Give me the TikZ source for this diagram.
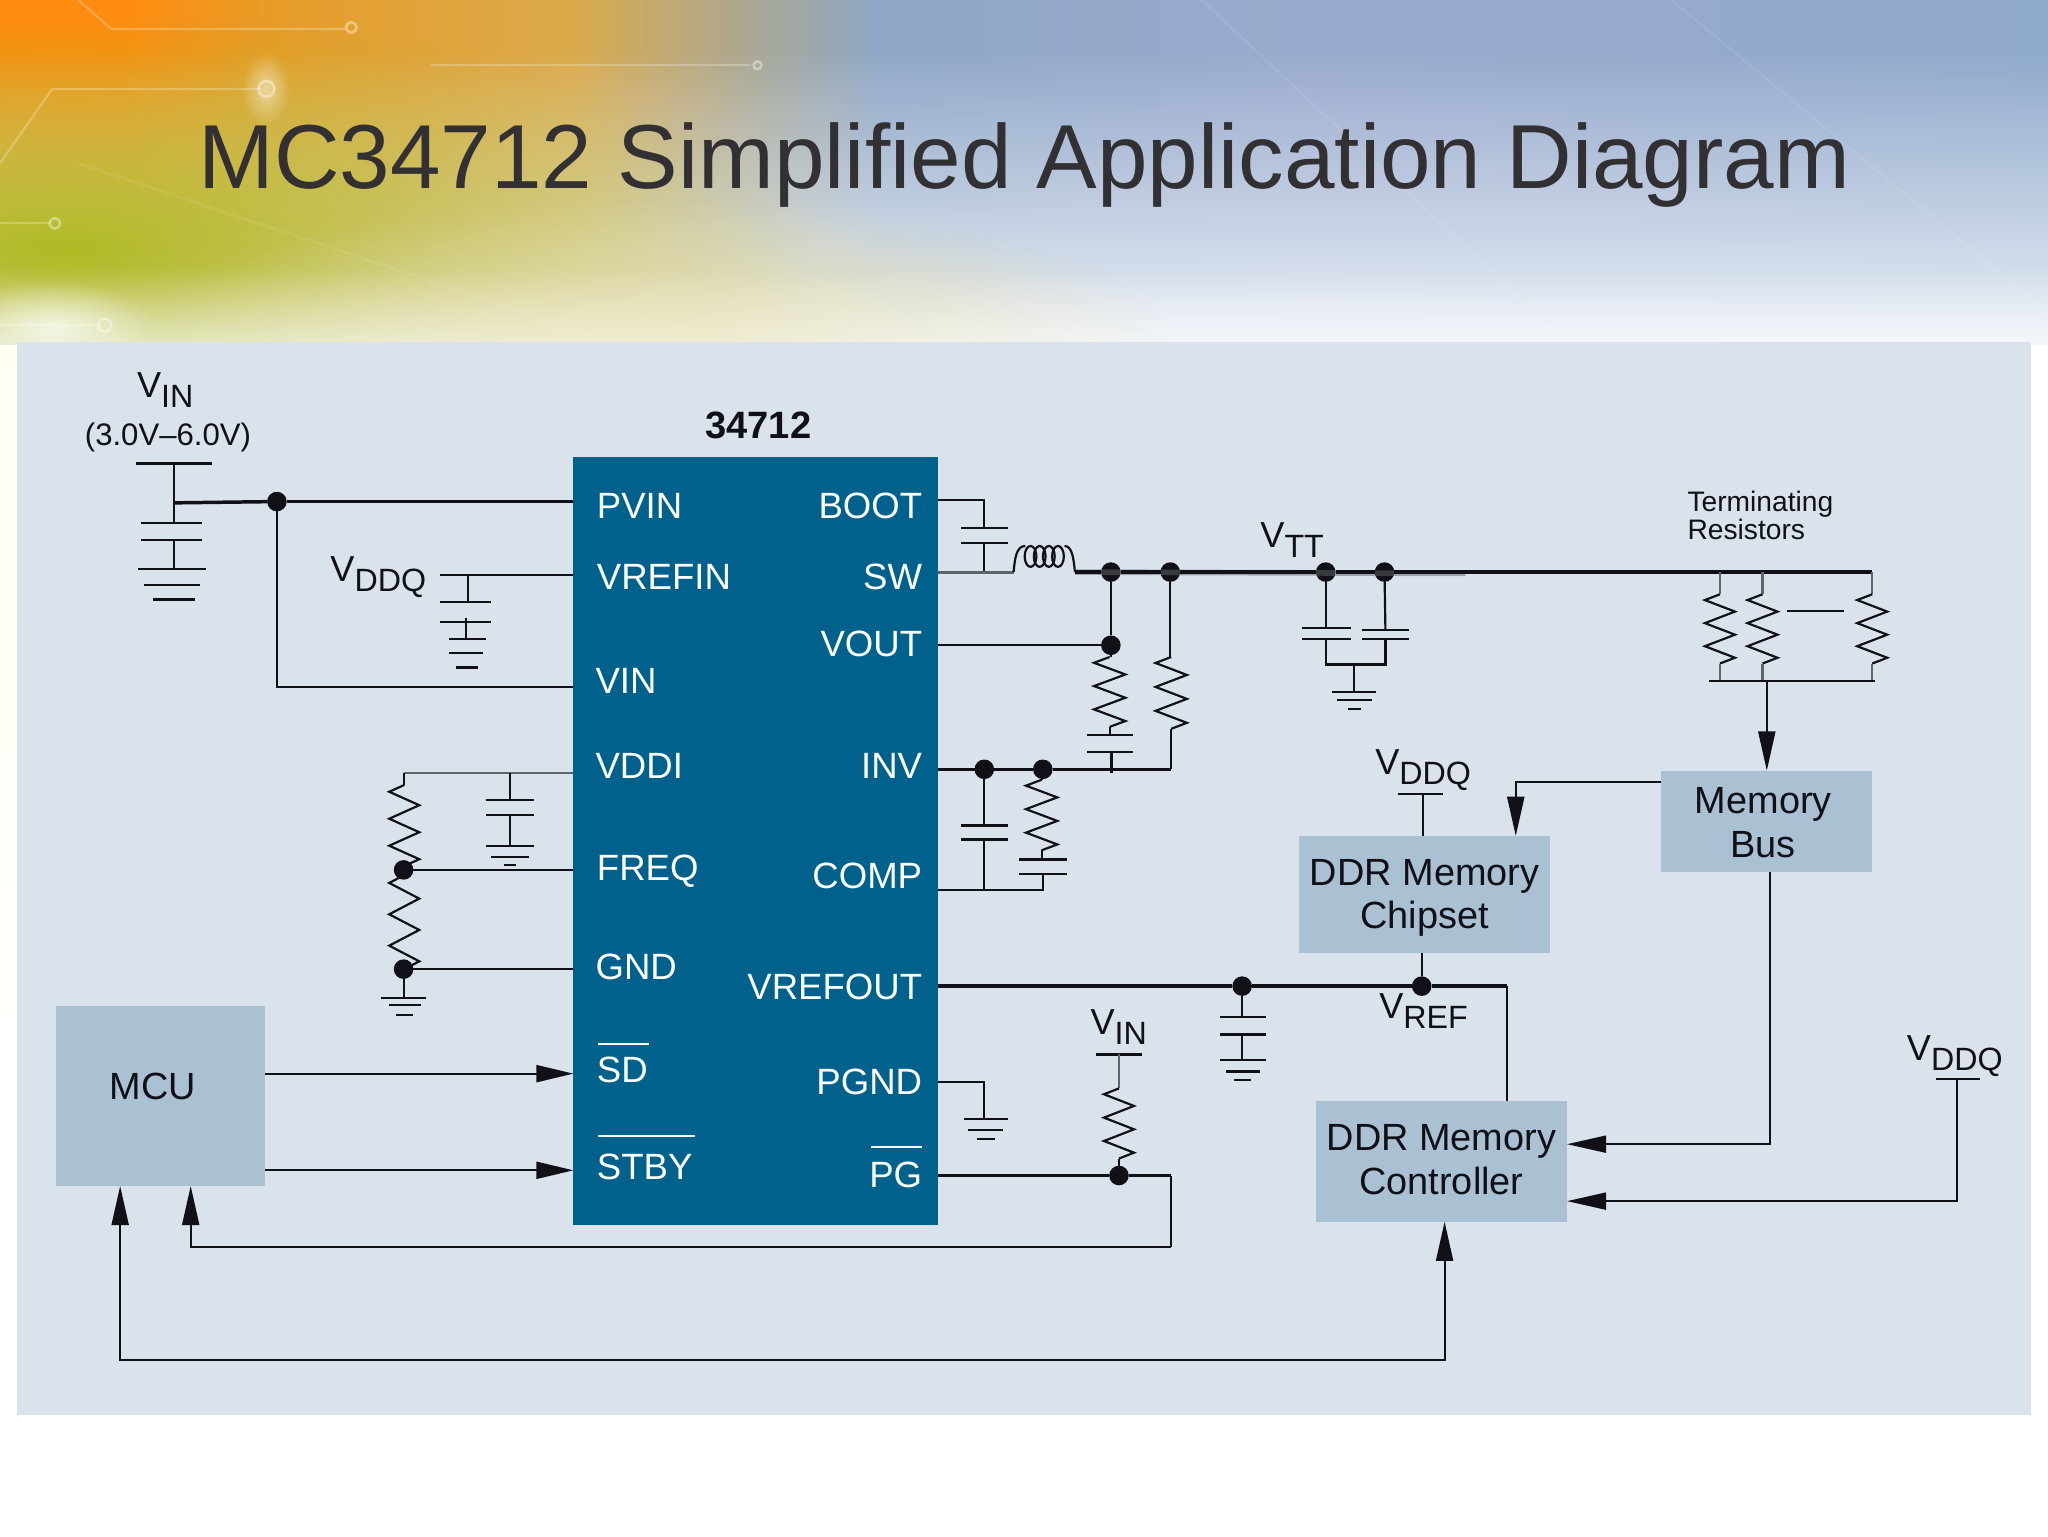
\documentclass[tikz,border=0pt]{standalone}
\usepackage{fontspec}
\setmainfont{Liberation Sans}
\usetikzlibrary{arrows.meta,fadings,calc}
\definecolor{panelc}{RGB}{218,226,236}
\definecolor{boxc}{RGB}{170,193,212}
\definecolor{chipc}{RGB}{0,97,140}
\definecolor{inkc}{RGB}{16,16,22}
\definecolor{titlec}{RGB}{50,48,50}
\definecolor{grayw}{RGB}{95,100,105}
\definecolor{bgA}{RGB}{255,140,16}
\definecolor{bgB}{RGB}{232,156,40}
\definecolor{bgC}{RGB}{218,170,76}
\definecolor{bgD}{RGB}{168,168,152}
\definecolor{bgE}{RGB}{144,168,200}
\definecolor{bgF}{RGB}{154,170,206}
\definecolor{bgG}{RGB}{144,170,204}
\definecolor{paleb}{RGB}{234,239,246}
\definecolor{greenb}{RGB}{176,186,36}
\definecolor{yellowb}{RGB}{226,218,160}
\pgfdeclarehorizontalshading{topbg}{100bp}{
 color(0bp)=(bgA); color(25bp)=(bgA); color(28bp)=(bgA); color(31.5bp)=(bgB); color(39bp)=(bgC);
 color(43.5bp)=(bgD); color(46.5bp)=(bgE); color(57bp)=(bgF); color(75bp)=(bgG); color(100bp)=(bgG)}
\tikzfading[name=vfade, top color=transparent!100, bottom color=transparent!0]
\tikzfading[name=blob, inner color=transparent!0, outer color=transparent!100]
\tikzset{
 wire/.style={draw=inkc,line width=1pt},
 thickw/.style={draw=inkc,line width=1.6pt},
 grayline/.style={draw=grayw,line width=1.1pt},
 junc/.style={circle,fill=inkc,inner sep=0pt,minimum size=9pt,outer sep=0pt},
 lab/.style={inner sep=0pt,outer sep=0pt,anchor=base west,text=inkc},
 pinl/.style={inner sep=0pt,outer sep=0pt,anchor=base west,text=white,font=\fontsize{16.8pt}{18pt}\selectfont},
 pinr/.style={inner sep=0pt,outer sep=0pt,anchor=base east,text=white,font=\fontsize{16.8pt}{18pt}\selectfont},
 blockn/.style={fill=boxc,inner sep=0pt,outer sep=0pt},
 blockt/.style={inner sep=0pt,outer sep=0pt,align=center,text=inkc,font=\fontsize{17.4pt}{20pt}\selectfont},
 arr/.style={-{Triangle[length=18pt,width=7.8pt]}},
 arrb/.style={{Triangle[length=18pt,width=7.8pt]}-{Triangle[length=18pt,width=7.8pt]}},
}
\newcommand\plates[3]{\foreach \yy in {#3}{\draw[wire] (#1,\yy) -- (#2,\yy);}}
\newcommand\vres[5][wire]{\draw[#1,line join=miter]
 (#2,#3) -- ({#2-#5},{#3+(#4-#3)/12}) -- ({#2+#5},{#3+3*(#4-#3)/12}) -- ({#2-#5},{#3+5*(#4-#3)/12})
 -- ({#2+#5},{#3+7*(#4-#3)/12}) -- ({#2-#5},{#3+9*(#4-#3)/12}) -- ({#2+#5},{#3+11*(#4-#3)/12}) -- (#2,#4);}
\newcommand\vsub[2]{\fontsize{16.6pt}{18pt}\selectfont #1\raisebox{-4.6pt}{\fontsize{14.8pt}{16pt}\selectfont #2}}
\begin{document}
\begin{tikzpicture}[x=0.6pt,y=-0.6pt]
\useasboundingbox (0,0) rectangle (1568,1176);
% background
\fill[white] (0,0) rectangle (1568,1176);
\shade[top color=white!95!yellow,bottom color=white] (0,264) rectangle (13,900);
\begin{scope}
\clip (0,0) rectangle (1568,264);
\shade[shading=topbg] (0,0) rectangle (1568,264);
\fill[paleb,path fading=vfade] (-30,40) rectangle (1600,264);
\fill[greenb,path fading=blob] (-520,10) rectangle (620,370);
\fill[yellowb,path fading=blob] (100,150) rectangle (900,380);
\fill[white,opacity=.5,path fading=vfade] (-30,205) rectangle (1600,264);
\fill[white,opacity=.7,path fading=blob] (-40,215) rectangle (120,285);
\fill[white,opacity=.5,path fading=blob] (185,40) rectangle (222,96);
\foreach \a/\b/\c/\d in {60/0/85/22,85/22/265/22,330/50/575/50,0/125/40/68,40/68/200/68,0/171/38/171,0/249/78/249}
 \draw[white,opacity=.25,line width=1pt] (\a,\b) -- (\c,\d);
\foreach \a/\b/\c/\d in {60/125/470/262,920/0/1200/262,1280/0/1568/240}
 \draw[white,opacity=.08,line width=1pt] (\a,\b) -- (\c,\d);
\foreach \a/\b/\r in {269/21/4,580/50/3,204/68/6,42/171/4,80/249/5}
 \draw[white,opacity=.4,line width=1.2pt] (\a,\b) circle (\r);
\end{scope}
\fill[panelc] (13,262) rectangle (1555,1083);
% title
\node[lab,text=titlec,font=\fontsize{41.75pt}{44pt}\selectfont] (title) at (152,144) {MC34712 Simplified Application Diagram};
% blocks
\node[fill=chipc,minimum width=167.4pt,minimum height=352.8pt,inner sep=0pt,outer sep=0pt] (chip) at (578.5,644) {};
\node[blockn,minimum width=96pt,minimum height=82.8pt] (mcu) at (123,839) {};
\node[blockn,minimum width=96.84pt,minimum height=46.44pt] (membus) at (1352.7,628.7) {};
\node[blockn,minimum width=115.32pt,minimum height=54pt] (chipset) at (1090.7,685) {};
\node[blockn,minimum width=115.32pt,minimum height=55.44pt] (ctrl) at (1103.6,889.2) {};
\node[blockt] (tmcu) at (117,832) {MCU};
\node[blockt] (tmembus) at (1350,630) {Memory\\Bus};
\node[blockt] (tchipset) at (1090.7,687.5) {DDR Memory\\Chipset};
\node[blockt] (tctrl) at (1103.6,888) {DDR Memory\\Controller};
% chip labels
\node[lab,font=\bfseries\fontsize{17.5pt}{18pt}\selectfont] (partno) at (540,336) {34712};
\node[pinl] (tpvin) at (457,397) {PVIN};
\node[pinl] (tvrefin) at (457,451) {VREFIN};
\node[pinl] (tvin) at (456,531) {VIN};
\node[pinl] (tvddi) at (456,596) {VDDI};
\node[pinl] (tfreq) at (457,674) {FREQ};
\node[pinl] (tgnd) at (456,750) {GND};
\node[pinl] (tsd) at (457,829) {SD};
\node[pinl] (tstby) at (457,903) {STBY};
\node[pinr] (tboot) at (706,397) {BOOT};
\node[pinr] (tsw) at (706,451) {SW};
\node[pinr] (tvout) at (706,503) {VOUT};
\node[pinr] (tinv) at (706,596) {INV};
\node[pinr] (tcomp) at (706,680) {COMP};
\node[pinr] (tvrefout) at (706,765) {VREFOUT};
\node[pinr] (tpgnd) at (706,838) {PGND};
\node[pinr] (tpg) at (706,909) {PG};
\draw[white,line width=.9pt] (458,799) -- (497,799) (458,870) -- (532,870) (667,878) -- (706,878);
% voltage labels
\node[lab] (lvin) at (105,304) {\vsub{V}{IN}};
\node[lab,font=\fontsize{14.3pt}{16pt}\selectfont] (lrange) at (65,341) {(3.0V–6.0V)};
\node[lab] (lvddqa) at (253,445) {\vsub{V}{DDQ}};
\node[lab] (lvtt) at (965,419) {\vsub{V}{TT}};
\node[lab] (lvddqb) at (1053,593) {\vsub{V}{DDQ}};
\node[lab] (lvref) at (1056,780) {\vsub{V}{REF}};
\node[lab] (lvinb) at (835,792) {\vsub{V}{IN}};
\node[lab] (lvddqc) at (1460,812) {\vsub{V}{DDQ}};
\node[lab,font=\fontsize{12.95pt}{12.8pt}\selectfont,align=left,anchor=north west] (lterm) at (1292,376) {Terminating\\Resistors};
% junctions
\node[junc] (jpv) at (212,384) {};
\node[junc] (jfr) at (309,666) {};
\node[junc] (jgn) at (309,742) {};
\node[junc] (jsa) at (850.5,438) {};
\node[junc] (jsb) at (896,438) {};
\node[junc] (jvo) at (850.5,494) {};
\node[junc] (jta) at (1015,438) {};
\node[junc] (jtb) at (1060,438) {};
\node[junc] (jia) at (753.6,589) {};
\node[junc] (jib) at (798.4,589) {};
\node[junc] (jra) at (951,755) {};
\node[junc] (jrb) at (1088.5,755) {};
\node[junc] (jpg) at (856.7,900) {};
% coordinates
\coordinate (batt) at (133,385);
\coordinate (vdq) at (358,440);
\coordinate (vdi) at (309,592);
\coordinate (vdc) at (390.6,592);
\coordinate (swa) at (776,438);
\coordinate (swb) at (823,438);
\coordinate (trm) at (1433.5,438);
\coordinate (bot) at (753.6,383);
\coordinate (bus) at (1352.7,521.5);
\coordinate (gnc) at (753.6,681.5);
\coordinate (gnd) at (798.4,681.5);
\coordinate (pgn) at (753.6,828.7);
\coordinate (pgr) at (896.5,900);
\coordinate (pgb) at (896.5,954.5);
\coordinate (pgl) at (146,954.5);
\coordinate (lpl) at (92,1041);
\coordinate (lpr) at (1106,1041);
\coordinate (mbc) at (1355,876);
\coordinate (mbt) at (1160.5,599);
\coordinate (vdr) at (1498,919.6);
\coordinate (vrr) at (1153.7,755);
\coordinate (vdb) at (1089.3,608.2);
\coordinate (sdy) at (300,822);
\coordinate (sby) at (300,896);
\coordinate (vny) at (300,526);
% left wiring
\draw[thickw] (batt) -- (jpv);
\draw[wire] (jpv) -- (chip.west |- jpv);
\draw[wire] (jpv) |- (chip.west |- vny);
\draw[wire] (133,354.8) -- (133,400.6) (133,413.4) -- (133,435.4);
\plates{104}{162}{354.8}
\plates{108}{155}{400.6,413.4}
\plates{106}{158}{435.4}
\plates{110}{153}{447.8}
\plates{117}{149}{459}
\draw[wire] (337,440) -- (chip.west |- vdq);
\draw[wire] (vdq) -- (358,461) (357,473) -- (357,489);
\plates{337}{376}{461,476.4}
\plates{344}{372}{489}
\plates{344}{370}{500}
\plates{349}{366}{511}
\draw[grayline] (vdi) -- (chip.west |- vdi);
\draw[wire] (vdi) -- (309,601);
\vres{309.5}{601}{663}{11.5}
\vres{309.5}{670}{742}{11.5}
\draw[wire] (vdc) -- (390.6,612.7) (390.6,623.7) -- (390.6,647.5);
\plates{372}{409}{612.7,623.7,647.5}
\plates{376}{405}{656}
\plates{386}{395}{662.5}
\draw[wire] (jfr) -- (chip.west |- jfr);
\draw[wire] (jgn) -- (chip.west |- jgn);
\draw[wire] (jgn) -- (309,764);
\plates{291.5}{326}{764}
\plates{298}{322}{769.5}
\plates{303}{316}{777}
% right wiring: boot, sw, inductor
\draw[wire] (chip.east |- bot) -- (bot) -- (753.6,404.5);
\draw[wire] (753.6,416) -- (753.6,438);
\plates{736}{772}{404.5,416}
\draw[grayline,line width=1.4pt] (chip.east |- swa) -- (swa);
\draw[wire] (swa) .. controls (777,428) and (778,418) .. (785,418);
\foreach \cx in {789,796,803,810} \draw[wire] (\cx,426) ellipse (4.5 and 8);
\draw[wire] (815,418) .. controls (821,418) and (822,428) .. (swb);
\draw[grayline,line width=2.6pt,opacity=.5] (swb) -- (1122,439);
\draw[thickw] (swb) -- (jsa) -- (jsb) -- (jta) -- (jtb) -- (trm);
% vout, feedback
\draw[wire] (chip.east |- jvo) -- (jvo);
\draw[wire] (jsa) -- (jvo) -- (850.5,503);
\vres{849.6}{503}{556.5}{12}
\draw[wire] (849.6,556.5) -- (849.6,562.8) (851,576) -- (851,592);
\plates{832.6}{867.4}{562.8,576}
\draw[wire] (jsb) -- (896,503);
\vres{896.7}{503}{558}{12}
\draw[thickw] (chip.east |- jia) -- (jia) -- (jib) -- (896.5,589);
\draw[wire] (896.5,558) -- (896.5,589);
% comp network
\draw[wire] (jia) -- (753.6,632) (753.6,642.7) -- (gnc);
\plates{736}{772}{632,642.7}
\draw[wire] (chip.east |- gnc) -- (gnc) -- (gnd) -- (798.4,669);
\draw[wire] (jib) -- (797.5,597);
\vres{797.5}{597}{651}{12}
\draw[wire] (797.5,651) -- (797.5,658);
\plates{780.5}{817}{658,669}
% VTT caps
\draw[wire] (jta) -- (1015,480.6) (1015,489.5) -- (1015,508.7) -- (1060.7,508.7) -- (1060.7,489.3);
\draw[wire] (jtb) -- (1060.7,482.4);
\plates{997}{1034}{480.6,489.5}
\plates{1042.8}{1079}{482.4,489.3}
\draw[wire] (1036.6,508.7) -- (1036.6,530);
\plates{1019.8}{1053.4}{530}
\plates{1023.7}{1050.6}{536}
\plates{1032}{1042}{543}
% terminating resistors
\foreach \tx in {1316.8,1349.4,1433.4}{
 \draw[grayline] (\tx,438) -- (\tx,455);
 \vres{\tx}{455}{508}{11.5}
 \draw[grayline] (\tx,508) -- (\tx,521.5);
}
\draw[wire] (1368.4,467.6) -- (1412,467.6);
\draw[wire] (1308.5,521.5) -- (1435.7,521.5);
\draw[wire,arr] (bus) -- (bus |- membus.north);
% memory bus
\draw[wire,arr] (membus.west |- mbt) -- (mbt) -- (mbt |- chipset.north);
\draw[wire,arr] (mbc |- membus.south) -- (mbc) -- (ctrl.east |- mbc);
% VDDQ chipset
\draw[wire] (vdb) -- (vdb |- chipset.north);
\plates{1070}{1105}{608.2}
\draw[wire] (chipset.south -| jrb) -- (jrb);
% vrefout
\draw[thickw] (chip.east |- jra) -- (jra) -- (jrb) -- (vrr);
\draw[wire] (vrr) -- (vrr |- ctrl.north);
\draw[wire] (jra) -- (951,778.9) (951,792) -- (951,811.6);
\plates{934}{969.3}{778.9,792,811.6}
\plates{938.5}{965}{820.3}
\plates{945}{958}{826.9}
% pgnd
\draw[wire] (chip.east |- pgn) -- (pgn) -- (753.6,857);
\plates{738}{772}{857}
\plates{741}{767.6}{865.2}
\plates{748}{762}{872}
% PG
\draw[thickw] (chip.east |- jpg) -- (jpg) -- (pgr);
\draw[wire] (pgr) -- (pgb);
\draw[wire,arr] (pgb) -- (pgl) -- (pgl |- mcu.south);
\plates{839}{874}{807.3}
\draw[grayline] (856.7,807.3) -- (856.7,833.3);
\vres{856.7}{833.3}{887}{11.5}
\draw[wire] (856.7,887) -- (jpg);
% MCU
\draw[wire,-{Triangle[length=17pt,width=7.8pt]}] (mcu.east |- sdy) -- (chip.west |- sdy);
\draw[wire,-{Triangle[length=17pt,width=7.8pt]}] (mcu.east |- sby) -- (chip.west |- sby);
\draw[wire,arrb] (lpl |- mcu.south) -- (lpl) -- (lpr) -- (lpr |- ctrl.south);
% VDDQ right
\plates{1482}{1516}{826.4}
\draw[wire,arr] (1498,826.4) -- (vdr) -- (ctrl.east |- vdr);
\end{tikzpicture}
\end{document}
